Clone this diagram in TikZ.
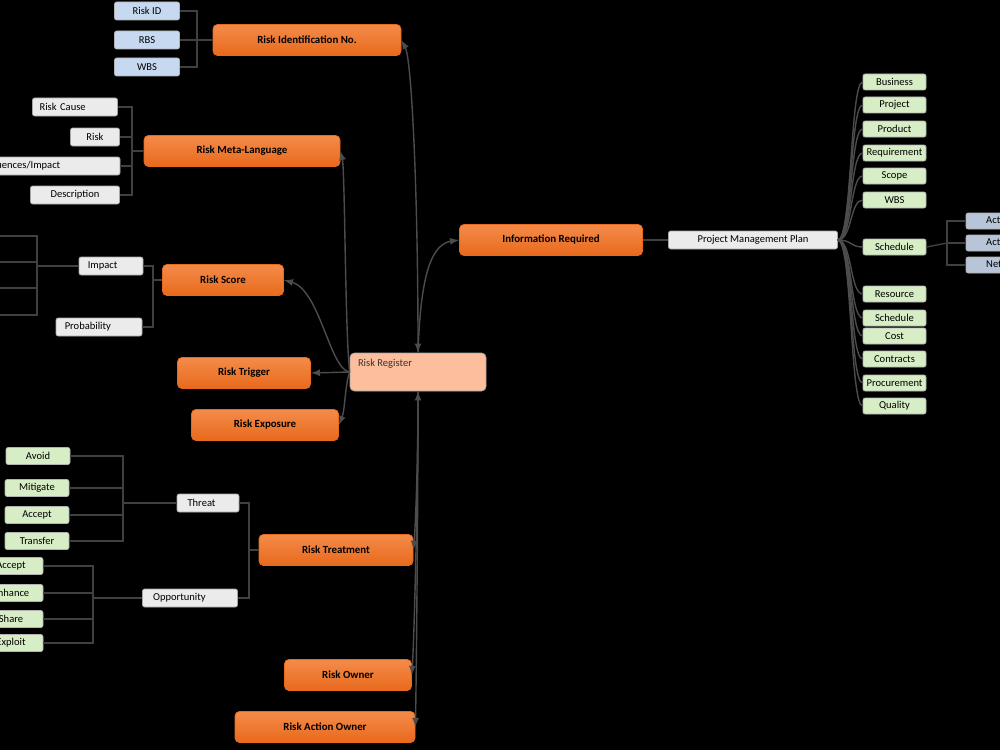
\documentclass[tikz,border=0pt]{standalone}
\usepackage{fontspec}
\setmainfont{Carlito}
\usetikzlibrary{calc}
\definecolor{bluebx}{HTML}{C6D9F1}
\definecolor{greenbx}{HTML}{D7EDC6}
\definecolor{slatebx}{HTML}{B8C4D8}
\definecolor{regbx}{HTML}{FDBE9E}
\definecolor{otop}{HTML}{F48B4A}
\definecolor{obot}{HTML}{E8691C}
\begin{document}
\begin{tikzpicture}[x=0.02cm,y=-0.02cm,
  base/.style={rounded corners=1.2pt,inner sep=0pt,font=\fontsize{6}{7}\selectfont,text=black,draw=#1!70!black,line width=0.4pt},
  wd/.style={minimum width=#1*0.02cm},
  lt/.style={text width=#1*0.02cm,align=left},
  ht/.style={minimum height=#1*0.02cm},
  obox/.style={base=orange,top color=otop,bottom color=obot,draw=obot,font=\fontsize{6.2}{7.5}\selectfont\bfseries,ht=31,rounded corners=2.5pt},
  gbox/.style={base=gray,fill=black!8,draw=gray!70,ht=18},
  bbox/.style={base=blue,fill=bluebx,draw=gray!60,ht=18},
  grbox/.style={base=green,fill=greenbx,draw=gray!60,ht=17},
  sbox/.style={base=gray,fill=slatebx,draw=gray!60,ht=17},
  ln/.style={draw=black!75!white,line width=0.8pt},
  cl/.style={ln,draw=black!70!white},
  ar/.style={cl,-latex}
]
\useasboundingbox[fill=black] (0,0) rectangle (1000,750);
\begin{scope}
\clip (0,0) rectangle (1000,750);
% top left
\node[bbox,wd=65] (rid) at (147,11) {Risk ID};
\node[bbox,wd=65] (rbs) at (147,40) {RBS};
\node[bbox,wd=65] (wbs) at (147,67) {WBS};
\node[obox,wd=188] (idno) at (307,40) {Risk Identification No.};
\coordinate (b1) at (197,40);
\foreach \n in {rid,rbs,wbs} \draw[ln] (\n.east) -| (b1) -- (idno.west);
% meta
\node[gbox,lt=85] (rc) at (75,107) {\hspace*{4pt}Risk Cause};
\node[gbox,wd=49] (rk) at (95,137) {Risk};
\node[gbox,text width=160*0.02cm,align=right] (cq) at (40,166) {Consequences/Impact\hspace*{34pt}};
\node[gbox,wd=89] (ds) at (75,195) {Description};
\node[obox,wd=196] (meta) at (242,151) {Risk Meta-Language};
\coordinate (b2) at (132,151);
\foreach \n in {rk,cq,ds} \draw[ln] (\n.east) -| (b2) -- (meta.west);
\draw[ln] (rc.east) -| (b2);
% score
\node[gbox,lt=64] (imp) at (111,266) {\hspace*{5pt}Impact};
\node[gbox,lt=86] (prob) at (99,327) {\hspace*{5pt}Probability};
\node[obox,wd=121] (score) at (223,280) {Risk Score};
\coordinate (b3) at (153,280);
\foreach \n in {imp,prob} \draw[ln] (\n.east) -| (b3) -- (score.west);
\coordinate (b4) at (37,266);
\foreach \y [count=\i] in {236,262,288,315} { \coordinate (l\i) at (-5,\y); \draw[ln] (l\i) -| (b4) -- (imp.west); }
% trigger / exposure
\node[obox,wd=133] (trig) at (244,373) {Risk Trigger};
\node[obox,wd=147] (expo) at (265,425) {Risk Exposure};
% register
\node[base=orange,fill=regbx,draw=gray!70,rounded corners=2.5pt,wd=136,ht=38] (reg) at (418,372) {};
\node[anchor=north west,font=\fontsize{6}{7}\selectfont,text=black!80,inner sep=0pt] (regt) at ($(reg.north west)+(8,6)$) {Risk Register};
% info
\node[obox,wd=183] (info) at (551,240) {Information Required};
\node[gbox,wd=169] (pmp) at (753,240) {Project Management Plan};
\draw[ln] (info.east) -- (pmp.west);
\foreach \t/\y [count=\i] in {Business/82,Project/105,Product/129,Requirement/153,Scope/176,WBS/200,Schedule/247,Resource/294,Schedule/318,Cost/336,Contracts/359,Procurement/383,Quality/406}{
  \node[grbox,wd=63,ht=16] (g\i) at (894.5,\y) {\t};
  \draw[cl] (pmp.east) .. controls (852,240) and (850,\y) .. (g\i.west);
}
\foreach \t/\y [count=\i] in {Activity List/221,Activity Attributes/243,Network Diagram/265}{
  \node[sbox,lt=130,ht=16] (s\i) at (1031,\y) {\hspace*{11.5pt}\t};
}
\coordinate (b5) at (947,243);
\foreach \i in {1,2,3} \draw[ln] (s\i.west) -| (b5);
\draw[ln] (g7.east) -- (b5);
% treatment
\node[grbox,wd=64] (av) at (38,456) {Avoid};
\node[grbox,wd=64] (mi) at (37,488) {Mitigate};
\node[grbox,wd=64] (ac) at (37,515) {Accept};
\node[grbox,wd=64] (tr) at (37,541) {Transfer};
\node[gbox,lt=62] (thr) at (208,503) {\hspace*{6pt}Threat};
\node[gbox,lt=95] (opp) at (190,598) {\hspace*{6pt}Opportunity};
\node[obox,wd=154] (treat) at (336,550) {Risk Treatment};
\coordinate (b6) at (123,503);
\foreach \n in {av,mi,ac,tr} \draw[ln] (\n.east) -| (b6) -- (thr.west);
\node[grbox,wd=64] (oa) at (11,566) {Accept};
\node[grbox,wd=64] (oe) at (11,593) {Enhance};
\node[grbox,wd=64] (os) at (11,619) {Share};
\node[grbox,wd=64] (ox) at (11,643) {Exploit};
\coordinate (b7) at (93,598);
\foreach \n in {oa,oe,os,ox} \draw[ln] (\n.east) -| (b7) -- (opp.west);
\coordinate (b8) at (249,550);
\foreach \n in {thr,opp} \draw[ln] (\n.east) -| (b8) -- (treat.west);
\node[obox,wd=127] (own) at (348,675) {Risk Owner};
\node[obox,wd=180] (aown) at (325,727) {Risk Action Owner};
% register links
\draw[ar,latex-latex] (reg.north) .. controls (418,200) and (412,60) .. (idno.east);
\draw[ar] (reg.west) .. controls (345,330) and (345,170) .. (meta.east);
\draw[ar] (reg.west) .. controls (330,370) and (320,290) .. (score.east);
\draw[ar] (reg.west) -- (trig.east);
\draw[ar] (reg.west) .. controls (345,385) and (345,410) .. (expo.east);
\draw[ar] (reg.north) .. controls (420,300) and (425,245) .. (info.west);
\draw[ar,latex-latex] (reg.south) .. controls (418,450) and (416,520) .. (treat.east);
\draw[ar] (reg.south) .. controls (418,500) and (414,640) .. (own.east);
\draw[ar] (reg.south) .. controls (418,520) and (416,700) .. (aown.east);
\end{scope}
\end{tikzpicture}
\end{document}
